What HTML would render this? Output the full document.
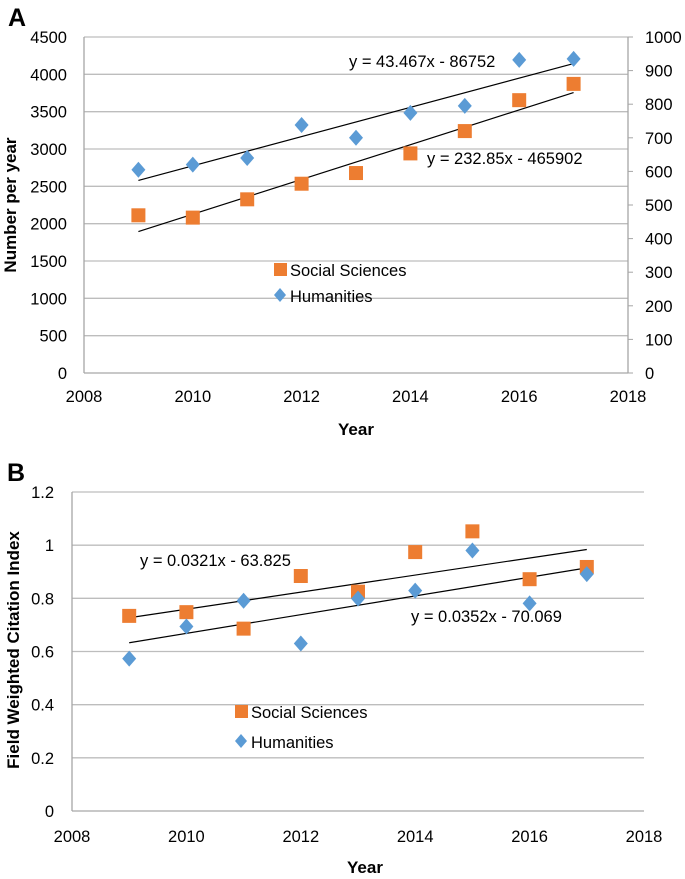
<!DOCTYPE html>
<html><head><meta charset="utf-8"><style>
html,body{margin:0;padding:0;background:#fff;}
svg{display:block;font-family:"Liberation Sans",sans-serif;}
</style></head><body>
<svg id="s" width="685" height="879"></svg>
<script>
const years=[2009,2010,2011,2012,2013,2014,2015,2016,2017];
const aSocial=[2112,2081,2326,2535,2678,2941,3240,3654,3872];
const aHum=[605,620,640,738,700,774,795,932,935];
const aLeftTicks=[0,500,1000,1500,2000,2500,3000,3500,4000,4500];
const aRightTicks=[0,100,200,300,400,500,600,700,800,900,1000];
const xTicks=[2008,2010,2012,2014,2016,2018];
const aSocialFit=[232.85,-465902];
const aHumFit=[43.467,-86752];
const bSocial=[0.734,0.748,0.686,0.884,0.825,0.974,1.052,0.872,0.918];
const bHum=[0.573,0.694,0.791,0.630,0.799,0.829,0.980,0.781,0.891];
const bTicks=[0,0.2,0.4,0.6,0.8,1,1.2];
const bSocialFit=[0.727,0.0321];
const bHumFit=[0.633,0.0352];

const S=document.getElementById('s');const NS='http://www.w3.org/2000/svg';
function el(t,a,txt){const e=document.createElementNS(NS,t);for(const k in a)e.setAttribute(k,a[k]);if(txt!==undefined)e.textContent=txt;S.appendChild(e);return e;}
const ORANGE='#ED7D31',BLUE='#5B9BD5';
const FS=16.5;
function sq(x,y,n){const e=el('rect',{x:x-7,y:y-7,width:14,height:14,fill:ORANGE});

}
function dia(x,y,n){const e=el('polygon',{points:`${x},${y-8} ${x+7},${y} ${x},${y+8} ${x-7},${y}`,fill:BLUE});

}

// Chart A
{const L=84,R=628,T=37,B=373;
const X=v=>L+(v-2008)/10*(R-L);
const YL=v=>B-v/4500*(B-T);
const YR=v=>B-v/1000*(B-T);
aLeftTicks.forEach(v=>{if(v>0){const g=el('line',{x1:L,x2:R,y1:YL(v),y2:YL(v),stroke:'#bdbdbd','stroke-width':1.3});

}
const t=el('text',{x:67,y:YL(v)+6,'text-anchor':'end','font-size':FS},v);

});
aRightTicks.forEach(v=>{el('line',{x1:R,x2:R+5,y1:YR(v),y2:YR(v),stroke:'#a6a6a6'});
const t=el('text',{x:645,y:YR(v)+6,'font-size':FS},v);

});
el('line',{x1:L,x2:L,y1:T,y2:B,stroke:'#a6a6a6','stroke-width':1.3});
el('line',{x1:R,x2:R,y1:T,y2:B,stroke:'#a6a6a6','stroke-width':1.3});
el('line',{x1:L,x2:R,y1:B,y2:B,stroke:'#a6a6a6','stroke-width':1.3});
xTicks.forEach(v=>{const t=el('text',{x:X(v),y:402,'text-anchor':'middle','font-size':FS},v);

});
const f1=el('line',{x1:X(2009),y1:YL(aSocialFit[0]*2009+aSocialFit[1]),x2:X(2017),y2:YL(aSocialFit[0]*2017+aSocialFit[1]),stroke:'#000','stroke-width':1.2});

const f2=el('line',{x1:X(2009),y1:YR(aHumFit[0]*2009+aHumFit[1]),x2:X(2017),y2:YR(aHumFit[0]*2017+aHumFit[1]),stroke:'#000','stroke-width':1.2});

years.forEach((y,i)=>{sq(X(y),YL(aSocial[i]),'a-social-point');dia(X(y),YR(aHum[i]),'a-humanities-point');});
}
el('text',{x:8,y:26,'font-size':25,'font-weight':'bold',},'A');
el('text',{x:349,y:67,'font-size':FS,},'y = 43.467x - 86752');
el('text',{x:427,y:164,'font-size':FS,},'y = 232.85x - 465902');
el('rect',{x:274,y:263,width:13,height:13,fill:ORANGE,});
el('text',{x:290,y:276,'font-size':FS,},'Social Sciences');
el('polygon',{points:'280,288 286,295 280,302 274,295',fill:BLUE,});
el('text',{x:290,y:302,'font-size':FS,},'Humanities');
el('text',{x:356,y:435,'font-size':17,'font-weight':'bold','text-anchor':'middle',},'Year');
el('text',{x:0,y:0,'font-size':17,'font-weight':'bold','text-anchor':'middle',transform:'translate(16,205) rotate(-90)',},'Number per year');

// Chart B
{const L=72,R=644,T=492,B=811;
const X=v=>L+(v-2008)/10*(R-L);
const Y=v=>B-v/1.2*(B-T);
bTicks.forEach(v=>{const g=el('line',{x1:L,x2:R,y1:Y(v),y2:Y(v),stroke:v==0?'#a6a6a6':'#bdbdbd','stroke-width':1.3});


const t=el('text',{x:54,y:Y(v)+6,'text-anchor':'end','font-size':FS},v);

});
el('line',{x1:L,x2:L,y1:T,y2:B,stroke:'#a6a6a6','stroke-width':1.3});
xTicks.forEach(v=>{const t=el('text',{x:X(v),y:842,'text-anchor':'middle','font-size':FS},v);

});
const f1=el('line',{x1:X(2009),y1:Y(bSocialFit[0]),x2:X(2017),y2:Y(bSocialFit[0]+8*bSocialFit[1]),stroke:'#000','stroke-width':1.2});

const f2=el('line',{x1:X(2009),y1:Y(bHumFit[0]),x2:X(2017),y2:Y(bHumFit[0]+8*bHumFit[1]),stroke:'#000','stroke-width':1.2});

years.forEach((y,i)=>{sq(X(y),Y(bSocial[i]),'b-social-point');dia(X(y),Y(bHum[i]),'b-humanities-point');});
}
el('text',{x:7,y:481,'font-size':25,'font-weight':'bold',},'B');
el('text',{x:140,y:566,'font-size':FS,},'y = 0.0321x - 63.825');
el('text',{x:411,y:622,'font-size':FS,},'y = 0.0352x - 70.069');
el('rect',{x:235,y:705,width:13,height:13,fill:ORANGE,});
el('text',{x:251,y:718,'font-size':FS,},'Social Sciences');
el('polygon',{points:'241,734 247,741 241,748 235,741',fill:BLUE,});
el('text',{x:251,y:748,'font-size':FS,},'Humanities');
el('text',{x:365,y:873,'font-size':17,'font-weight':'bold','text-anchor':'middle',},'Year');
el('text',{x:0,y:0,'font-size':17,'font-weight':'bold','text-anchor':'middle',transform:'translate(19,650) rotate(-90)',},'Field Weighted Citation Index');
</script>
</body></html>
